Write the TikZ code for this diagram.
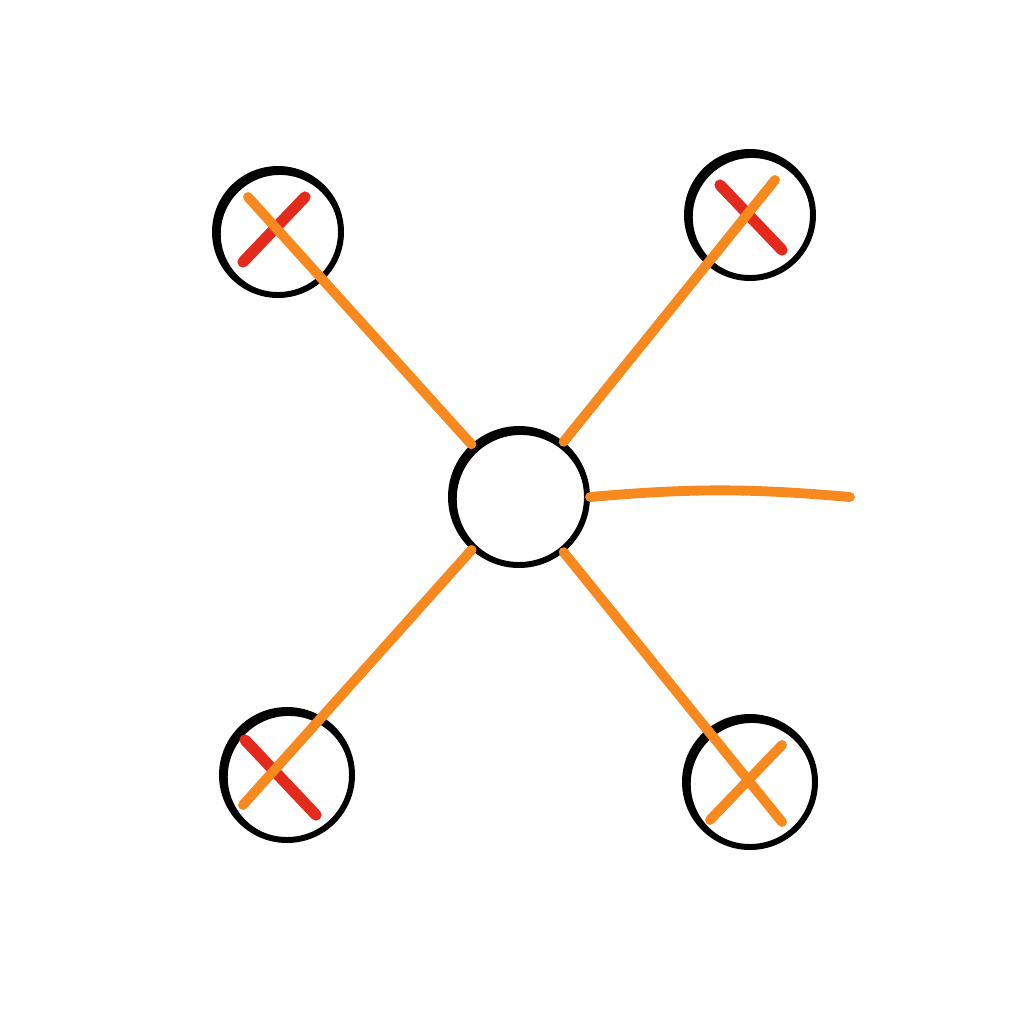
\documentclass[tikz,border=0pt]{standalone}
\definecolor{wireorange}{HTML}{F7891F}
\definecolor{crossred}{HTML}{E42A1D}
\def\sketchshift{(0.018,-0.02)}
\tikzset{
  ring/.style={circle, draw=black, line width=1.7pt, inner sep=0pt, fill=white},
  sketch/.style={draw=black, line width=1.1pt}
  }
\tikzstyle{wire} = [draw, wireorange, line width=2.8pt, line cap=round]
\tikzstyle{redbar} = [draw, crossred, line width=3.2pt, line cap=round]

\begin{document}
\begin{tikzpicture}
   \fill[white] (0,0) rectangle (10.24,-10.24);
   \useasboundingbox (0,0) rectangle (10.24,-10.24);

   % hub and the four rotors
   \node[ring, minimum size=1.36cm] (hub) at (5.19,-4.97) {};
   \node[ring, minimum size=1.26cm] (tl) at (2.78,-2.32) {};
   \node[ring, minimum size=1.26cm] (tr) at (7.50,-2.15) {};
   \node[ring, minimum size=1.30cm] (bl) at (2.87,-7.75) {};
   \node[ring, minimum size=1.30cm] (br) at (7.50,-7.82) {};

   % second pass for the hand-drawn look
   \foreach \n/\r in {hub/0.66, tl/0.61, tr/0.61, bl/0.63, br/0.63}
      \draw[sketch] ([shift=\sketchshift]\n.center) circle (\r);

   \coordinate (tl-a) at (2.48,-1.97);
   \coordinate (tr-a) at (7.75,-1.80);
   \coordinate (bl-a) at (2.43,-8.05);
   \coordinate (br-a) at (7.82,-8.22);
   \coordinate (lead) at (8.50,-4.97);

   \path[redbar] (2.43,-2.62) -- (3.05,-1.97);
   \path[redbar] (7.20,-1.85) -- (7.82,-2.50);
   \path[redbar] (2.45,-7.40) -- (3.16,-8.15);
   \path[wire] (7.10,-8.20) -- (7.82,-7.45);

   \path[wire] (hub) -- (tl-a);
   \path[wire] (hub) -- (tr-a);
   \path[wire] (hub) -- (bl-a);
   \path[wire] (hub) -- (br-a);
   \path[wire] (hub.east) to[bend left=5] (lead);
\end{tikzpicture}
\end{document}
